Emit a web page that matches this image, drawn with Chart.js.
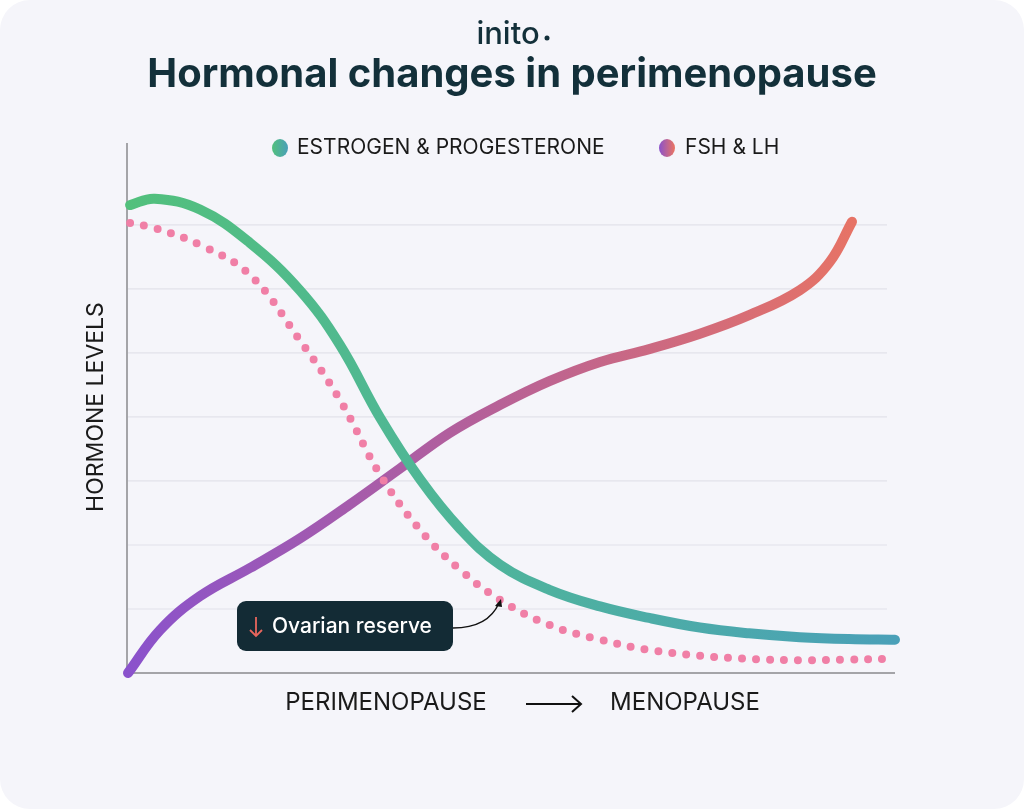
<!DOCTYPE html>
<html><head><meta charset="utf-8">
<script src="https://cdn.jsdelivr.net/npm/chart.js@4"></script>
<style>
html,body{margin:0;padding:0;background:#fff;}
#card{position:absolute;left:0;top:0;width:1024px;height:809px;background:#f5f5fa;border-radius:30px;}
canvas{position:absolute;left:0;top:0;}
</style></head><body>
<div id="card"><canvas id="c" width="1024" height="809"></canvas></div>
<script>
const estroX=[0.4,3.6,9.5,16,22.5,27.7,33,38.2,43.4,48.6,55,61.6,68,74.6,81,87.6,94,100];
const estroY=[7.31,7.41,7.24,6.72,5.98,5.13,3.98,3.02,2.25,1.69,1.30,1.04,0.86,0.71,0.62,0.56,0.53,0.52];
const reserveX=[0.4,3.6,9.5,16,22.5,27.7,33,38.2,43.4,48.6,55,61.6,68,74.6,81,87.6,94,100];
const reserveY=[7.03,6.95,6.69,6.22,5.20,4.27,3.09,2.23,1.61,1.14,0.75,0.52,0.36,0.27,0.22,0.20,0.21,0.22];
const fshX=[0.13,4.3,9.5,16,22.5,29,35.5,42,48.6,55,61.6,68,74.6,81,87.6,91.5,94.4];
const fshY=[0,0.67,1.20,1.64,2.10,2.63,3.19,3.75,4.19,4.56,4.86,5.06,5.30,5.59,5.98,6.42,7.05];
const gridLevels=[1,2,3,4,5,6,7];
const legendLabels=["ESTROGEN & PROGESTERONE","FSH & LH"];
const xLabels=["PERIMENOPAUSE","MENOPAUSE"];

const pts=(xs,ys)=>xs.map((x,i)=>({x,y:ys[i]}));
function grad(ctx,area,stops){
  const g=ctx.createLinearGradient(area.left,0,area.right,0);
  stops.forEach(s=>g.addColorStop(s[0],s[1]));return g;
}
const green=c=>{const a=c.chart.chartArea;if(!a)return '#4dbf7f';return grad(c.chart.ctx,a,[[0,'#52c07c'],[0.45,'#4fb59a'],[1,'#4aa0b8']]);};
const fsh=c=>{const a=c.chart.chartArea;if(!a)return '#8a4fd1';return grad(c.chart.ctx,a,[[0,'#8a52cc'],[0.45,'#b4609a'],[1,'#ec7560']]);};

const deco={id:'deco',
beforeDatasetsDraw(ch){
  const {ctx,scales:{x,y}}=ch;ctx.save();
  ctx.strokeStyle='#e2e2ea';ctx.lineWidth=1.2;
  gridLevels.forEach(v=>{const py=y.getPixelForValue(v);ctx.beginPath();ctx.moveTo(x.left,py);ctx.lineTo(887,py);ctx.stroke();});
  ctx.strokeStyle='#a4a4a8';ctx.lineWidth=2;
  ctx.beginPath();ctx.moveTo(x.left,143);ctx.lineTo(x.left,y.bottom);ctx.lineTo(x.right,y.bottom);ctx.stroke();
  ctx.restore();
},
afterDraw(ch){
  const {ctx}=ch;ctx.save();
  ctx.fillStyle='#13303a';ctx.textAlign='center';ctx.textBaseline='middle';
  ctx.font='500 31px Inter';ctx.fillText('inito',508,35);
  ctx.beginPath();ctx.arc(547,38,2.5,0,7);ctx.fill();
  ctx.font='bold 40px Inter';ctx.fillText('Hormonal changes in perimenopause',512,75);
  ctx.font='21px Inter';ctx.textAlign='left';
  let g=ctx.createLinearGradient(272,0,288,0);g.addColorStop(0,'#52c07c');g.addColorStop(1,'#4aa0b8');
  ctx.fillStyle=g;ctx.beginPath();ctx.ellipse(280,148,8,9,0,0,7);ctx.fill();
  ctx.fillStyle='#1a1a1a';ctx.fillText(legendLabels[0],297,148);
  g=ctx.createLinearGradient(659,0,675,0);g.addColorStop(0,'#8a52cc');g.addColorStop(1,'#ec7560');
  ctx.fillStyle=g;ctx.beginPath();ctx.ellipse(667,148,8,9,0,0,7);ctx.fill();
  ctx.fillStyle='#1a1a1a';ctx.fillText(legendLabels[1],685,148);
  ctx.font='24px Inter';ctx.textAlign='center';
  ctx.fillText(xLabels[0],386,703);ctx.fillText(xLabels[1],685,703);
  ctx.strokeStyle='#111';ctx.lineWidth=2;ctx.beginPath();ctx.moveTo(526,704);ctx.lineTo(581,704);ctx.stroke();
  ctx.beginPath();ctx.moveTo(572,696);ctx.lineTo(581,704);ctx.lineTo(572,712);ctx.stroke();
  ctx.save();ctx.translate(96,407);ctx.rotate(-Math.PI/2);ctx.font='23px Inter';ctx.fillText('HORMONE LEVELS',0,0);ctx.restore();
  ctx.fillStyle='#132b35';ctx.beginPath();ctx.roundRect(237,601,216,50,9);ctx.fill();
  ctx.strokeStyle='#111';ctx.lineWidth=1.5;ctx.beginPath();ctx.moveTo(453,628);ctx.quadraticCurveTo(488,628,499,603);ctx.stroke();
  ctx.fillStyle='#111';ctx.beginPath();ctx.moveTo(501,599);ctx.lineTo(495,606);ctx.lineTo(502,607);ctx.fill();
  ctx.strokeStyle='#e8665d';ctx.lineWidth=1.8;ctx.beginPath();ctx.moveTo(256,617);ctx.lineTo(256,636);ctx.moveTo(250,630);ctx.lineTo(256,636);ctx.lineTo(262,630);ctx.stroke();
  ctx.fillStyle='#fff';ctx.font='500 21px Inter';ctx.textAlign='left';ctx.fillText('Ovarian reserve',272,627);
  ctx.restore();
}};

new Chart(document.getElementById('c'),{
  type:'line',
  data:{datasets:[
    {data:pts(reserveX,reserveY),borderColor:'#f07fa6',borderWidth:8,borderDash:[0,14],borderCapStyle:'round',tension:0.4,pointRadius:0,clip:false},
    {data:pts(estroX,estroY),borderColor:green,borderWidth:10,borderCapStyle:'round',tension:0.4,pointRadius:0,clip:false},
    {data:pts(fshX,fshY),borderColor:fsh,borderWidth:10,borderCapStyle:'round',tension:0.4,pointRadius:0,clip:false}
  ]},
  options:{responsive:false,animation:false,devicePixelRatio:1,
    layout:{padding:{left:127,right:129,top:143,bottom:136}},
    plugins:{legend:{display:false},tooltip:{enabled:false}},
    scales:{x:{type:'linear',min:0,max:100,display:false},y:{min:0,max:8.28,display:false}}
  },
  plugins:[deco]
});
</script></body></html>
